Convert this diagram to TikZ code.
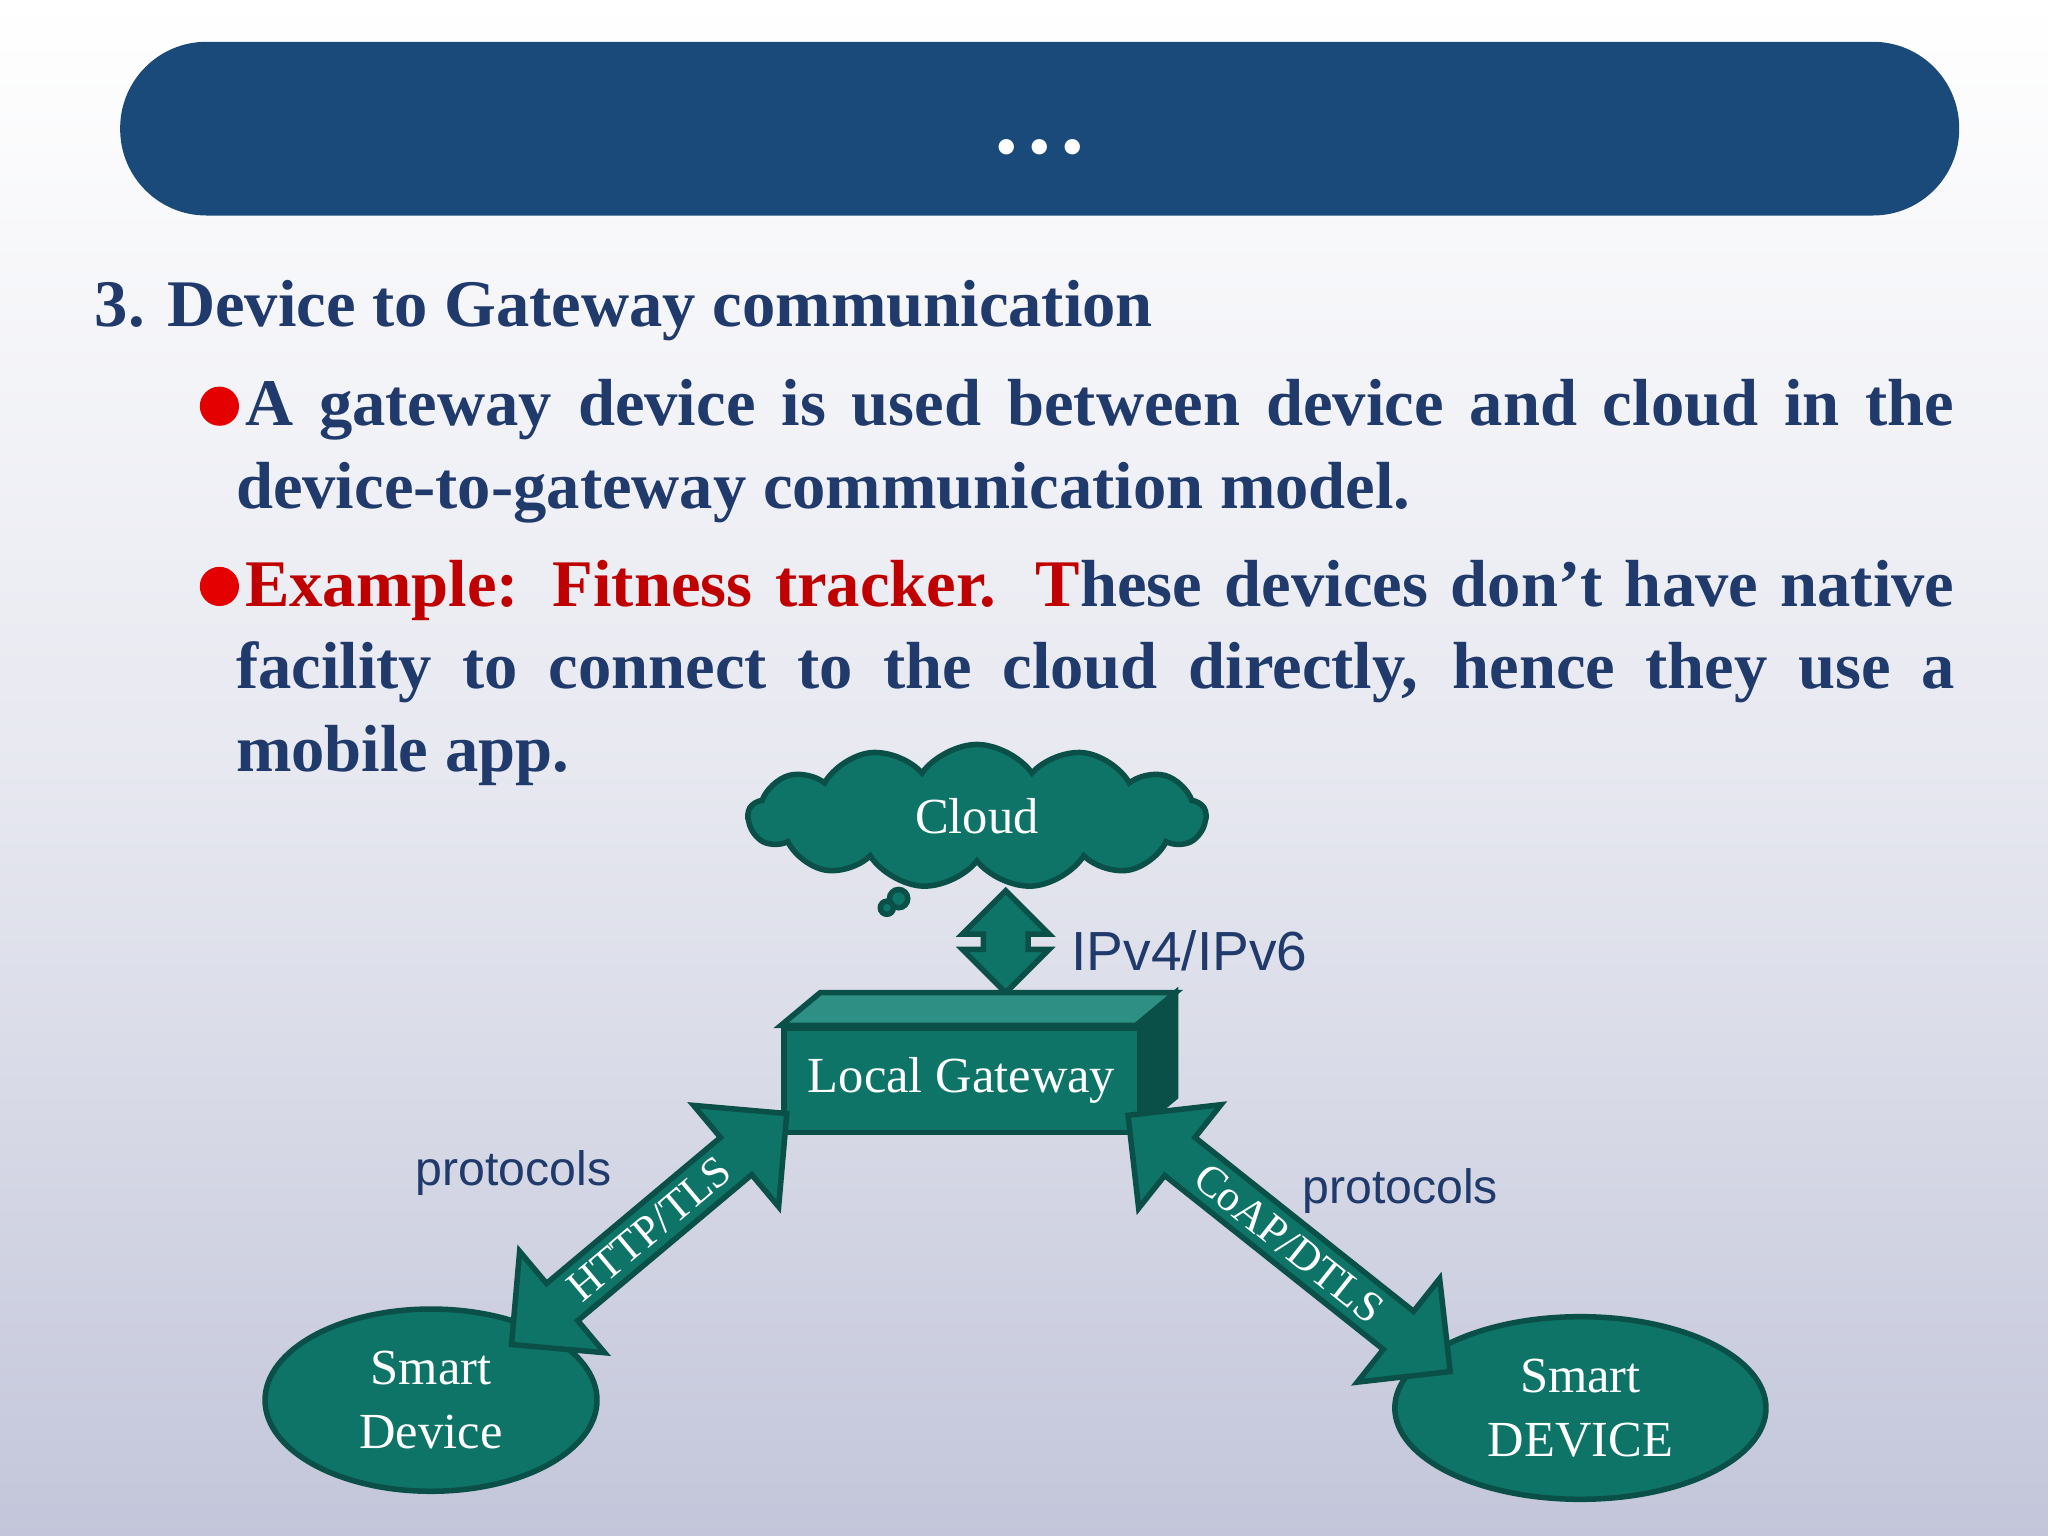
\documentclass[tikz,border=0pt]{standalone}
\usepackage{fontspec}
\setmainfont{Liberation Serif}
\setsansfont{Liberation Sans}
\usetikzlibrary{shapes.symbols,shapes.arrows,shapes.geometric}
\definecolor{navy}{HTML}{1A4A7A}
\definecolor{txt}{HTML}{1F3A6B}
\definecolor{teal}{HTML}{0E7468}
\definecolor{tealdark}{HTML}{0A5048}
\definecolor{tealtop}{HTML}{2E8F84}
\definecolor{redx}{HTML}{C00000}
\definecolor{bgbot}{HTML}{C3C6DA}
\tikzset{
  tealshape/.style={fill=teal,draw=tealdark,line width=1.2pt},
  dtext/.style={text=white,font=\fontsize{11}{13}\selectfont,align=center},
  darrow/.style={double arrow,tealshape,double arrow head extend=0.32cm,inner sep=1.5pt,text=white,font=\fontsize{9.5}{11}\selectfont},
  lbl/.style={text=txt,font=\sffamily\fontsize{10.5}{12}\selectfont},
  bodytext/.style={anchor=north west,text width=13.15cm,align=justify,text=txt,inner sep=0pt,font=\fontsize{14.5}{18}\selectfont\bfseries},
}
\begin{document}
\begin{tikzpicture}[x=0.01cm,y=-0.01cm]
\useasboundingbox (0,0) rectangle (1568,1176);
\shade[top color=white,bottom color=bgbot,middle color=white!60!bgbot] (0,0) rectangle (1568,1176);
\fill[navy,rounded corners=0.66cm] (92,32) rectangle (1500,165);
\node[text=white,font=\fontsize{14}{14}\selectfont] (title) at (796,118) {\textbullet\,\textbullet\,\textbullet};
\node[anchor=base west,inner sep=0pt,text=txt,font=\fontsize{14.5}{18}\selectfont\bfseries] (head) at (72,250) {3. Device to Gateway communication};
\node[bodytext] (b1) at (180,290)
 {\hspace*{2pt}A gateway device is used between device and cloud in the\linebreak device-to-gateway communication model.};
\node[bodytext] (b2) at (180,428)
 {\hspace*{2pt}\textcolor{redx}{Example: Fitness tracker. T}hese devices don’t have native\linebreak facility to connect to the cloud directly, hence they use a\linebreak mobile app.};
\fill[red!90!black] (168,311) circle (15);
\fill[red!90!black] (168,449) circle (15);
% cloud
\node[cloud,cloud puffs=13,cloud puff arc=110,aspect=3.3,tealshape,minimum width=3.5cm,minimum height=1.1cm,dtext] (cloud) at (748,625) {Cloud};
\draw[tealshape] (688,688) circle (7);
\draw[tealshape] (679,695) circle (5);
% vertical arrow
\node[double arrow,tealshape,rotate=90,minimum height=0.78cm,double arrow head extend=0.16cm,inner sep=0.15cm] (va) at (770,721) {};
\node[lbl,anchor=west,font=\sffamily\fontsize{12}{14}\selectfont] (ip) at (808,728) {IPv4/IPv6};
% gateway box
\fill[tealtop,draw=tealdark,line width=1.2pt] (598,785) -- (628,760) -- (900,760) -- (870,785) -- cycle;
\fill[tealdark,draw=tealdark,line width=1.2pt] (870,785) -- (900,760) -- (900,840) -- (870,865) -- cycle;
\node[tealshape,minimum width=2.72cm,minimum height=0.8cm,dtext,anchor=north west] (gw) at (598,785) {Local Gateway};
% ellipses
\node[ellipse,tealshape,minimum width=2.54cm,minimum height=1.26cm,dtext,font=\fontsize{11}{14}\selectfont] (sd) at (330,1072) {Smart\\Device};
\node[ellipse,tealshape,minimum width=2.84cm,minimum height=1.14cm,dtext,font=\fontsize{11}{14}\selectfont] (sD) at (1210,1078) {Smart\\DEVICE};
% side arrows
\node[darrow,rotate=40,minimum height=2.75cm] (la) at (497,941) {HTTP/TLS};
\node[darrow,rotate=-38.5,minimum height=3.15cm] (ra) at (987,952) {CoAP/DTLS};
\node[lbl] (p1) at (393,898) {protocols};
\node[lbl] (p2) at (1072,912) {protocols};
\end{tikzpicture}
\end{document}
